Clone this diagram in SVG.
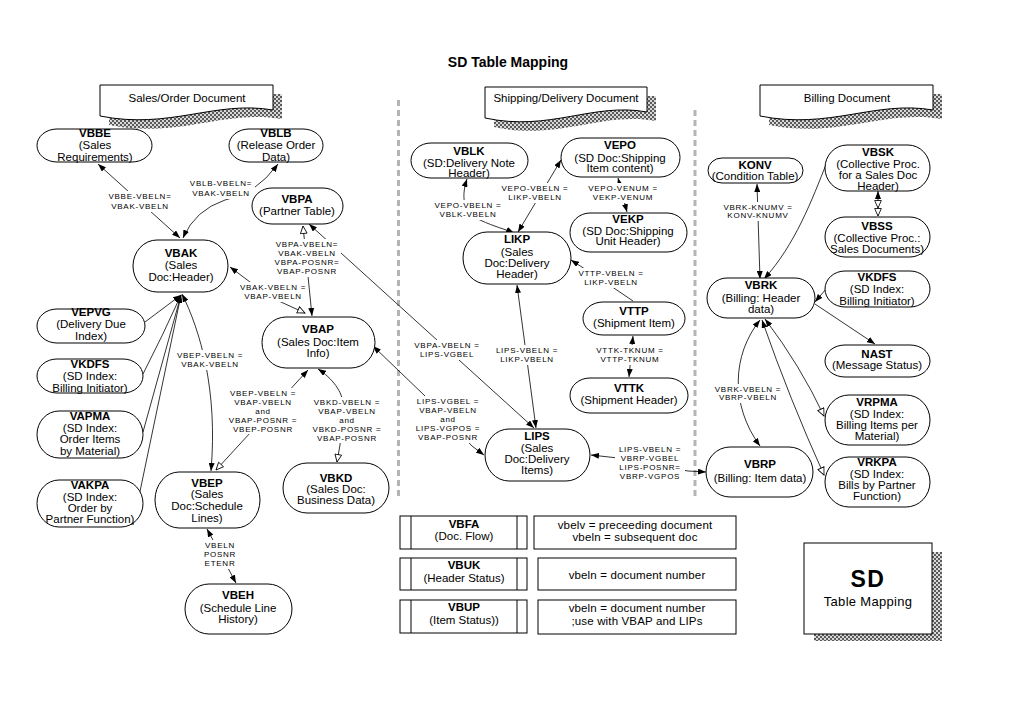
<svg xmlns="http://www.w3.org/2000/svg" width="1017" height="719" viewBox="0 0 1017 719">
<defs>
<style>
text{font-family:"Liberation Sans",Arial,sans-serif;fill:#000;text-anchor:middle}
.n{font-size:11.5px}
.h{font-weight:bold}
.l{font-size:8px;letter-spacing:0.75px}
.d{font-size:11.5px;letter-spacing:0.15px}
.node rect,.node path{fill:#fff;stroke:#000;stroke-width:1}
.node line{stroke:#000;stroke-width:1}
.node .sh{fill:url(#chk);stroke:none}
.c{fill:none;stroke:#000;stroke-width:0.8}
.bg{fill:#fff}
.sep{stroke:#b4b4b4;stroke-width:3;stroke-dasharray:6 4}
</style>
<pattern id="chk" width="4" height="4" patternUnits="userSpaceOnUse"><rect width="4" height="4" fill="#d8d8d8"/><rect width="2" height="2" fill="#5a5a5a"/><rect x="2" y="2" width="2" height="2" fill="#5a5a5a"/></pattern>
<marker id="f" viewBox="0 0 10 10" refX="10" refY="5" markerWidth="8" markerHeight="6" preserveAspectRatio="none" markerUnits="userSpaceOnUse" orient="auto-start-reverse"><path d="M0,0 L10,5 L0,10 Z" fill="#000"/></marker>
<marker id="o" viewBox="0 0 12 12" refX="11" refY="6" markerWidth="9" markerHeight="8" preserveAspectRatio="none" markerUnits="userSpaceOnUse" orient="auto-start-reverse"><path d="M1,1 L11,6 L1,11 Z" fill="#fff" stroke="#000" stroke-width="1.2"/></marker>
</defs>
<rect width="1017" height="719" fill="#fff"/>
<text x="508" y="67" style="font-size:14px;font-weight:bold">SD Table Mapping</text>

<g id="separators">
<line class="sep" x1="398.5" y1="100" x2="398.5" y2="500"/>
<line class="sep" x1="695" y1="110" x2="695" y2="498"/>
</g>

<g id="banner-sales" class="node">
<path class="sh" d="M109,94 H282 V119 C224,109 179,139 109,125 Z"/>
<path d="M100,85 H273 V110 C215,100 170,130 100,116 Z"/>
<text class="n" x="187" y="102">Sales/Order Document</text>
</g>
<g id="banner-shipping" class="node">
<path class="sh" d="M494,96 H656 V121 C602,111 559,141 494,127 Z"/>
<path d="M485,87 H647 V112 C593,102 550,132 485,118 Z"/>
<text class="n" x="566" y="102">Shipping/Delivery Document</text>
</g>
<g id="banner-billing" class="node">
<path class="sh" d="M769,94 H942 V119 C884,109 839,139 769,125 Z"/>
<path d="M760,85 H933 V110 C875,100 830,130 760,116 Z"/>
<text class="n" x="847" y="102">Billing Document</text>
</g>

<g id="connectors">
<path class="c" d="M98,164 L180,238" marker-start="url(#f)" marker-end="url(#f)"/>
<path class="c" d="M278,164 Q255,195 225,200 Q195,210 183,238" marker-start="url(#f)" marker-end="url(#f)"/>
<path class="c" d="M230,267 L270,297 L305,313" marker-start="url(#f)" marker-end="url(#o)"/>
<path class="c" d="M303,226 L312,316" marker-start="url(#o)" marker-end="url(#f)"/>
<path class="c" d="M309,224 L534,428" marker-start="url(#f)" marker-end="url(#f)"/>
<path class="c" d="M182,294 C200,330 218,390 211,471" marker-start="url(#f)" marker-end="url(#f)"/>
<path class="c" d="M308,370 L216,470" marker-start="url(#f)" marker-end="url(#o)"/>
<path class="c" d="M318,369 C332,378 343,392 343,405 L340,445 L337,462" marker-start="url(#f)" marker-end="url(#o)"/>
<path class="c" d="M207,529 L236,583" marker-start="url(#f)" marker-end="url(#f)"/>
<path class="c" d="M145,322 L181,295" marker-end="url(#f)"/>
<path class="c" d="M143,374 Q163,335 181,295" marker-end="url(#f)"/>
<path class="c" d="M143,432 L181,295" marker-end="url(#f)"/>
<path class="c" d="M133,525 L181,295" marker-end="url(#f)"/>
<path class="c" d="M467,179 C460,200 465,213 480,220 C495,227 505,229 514,233" marker-start="url(#f)" marker-end="url(#f)"/>
<path class="c" d="M561,160 L518,232" marker-start="url(#f)" marker-end="url(#f)"/>
<path class="c" d="M618,178 L627,212" marker-start="url(#f)" marker-end="url(#f)"/>
<path class="c" d="M571,260 L605,282 L633,301" marker-start="url(#f)"/>
<path class="c" d="M633,336 L629,377" marker-start="url(#f)" marker-end="url(#f)"/>
<path class="c" d="M517,285 L536,428" marker-start="url(#f)" marker-end="url(#f)"/>
<path class="c" d="M373,346 L425,396 L472,446 L484,455" marker-start="url(#f)" marker-end="url(#f)"/>
<path class="c" d="M591,455 L618,458 L688,471 L706,472" marker-start="url(#f)" marker-end="url(#f)"/>
<path class="c" d="M757,184 L760,279" marker-start="url(#f)" marker-end="url(#f)"/>
<path class="c" d="M827,162 C812,200 795,245 764,279" marker-end="url(#f)"/>
<path class="c" d="M878,191 L878,208 L878,216" marker-start="url(#f)" marker-mid="url(#o)" marker-end="url(#o)"/>
<path class="c" d="M826,289 L815,302" marker-end="url(#f)"/>
<path class="c" d="M815,304 L875,344" marker-end="url(#f)"/>
<path class="c" d="M765,319 Q800,365 824,416" marker-start="url(#f)" marker-end="url(#o)"/>
<path class="c" d="M762,320 Q790,400 824,475" marker-start="url(#f)" marker-end="url(#o)"/>
<path class="c" d="M760,320 C732,355 730,405 760,446" marker-start="url(#f)" marker-end="url(#f)"/>

<rect class="bg" x="106" y="191" width="68" height="21"/>
<text class="l"><tspan x="140" y="199">VBBE-VBELN=</tspan><tspan x="140" y="209">VBAK-VBELN</tspan></text>
<rect class="bg" x="187" y="178" width="68" height="21"/>
<text class="l"><tspan x="221" y="186">VBLB-VBELN=</tspan><tspan x="221" y="196">VBAK-VBELN</tspan></text>
<rect class="bg" x="273" y="239" width="68" height="38"/>
<text class="l"><tspan x="307" y="247">VBPA-VBELN=</tspan><tspan x="307" y="256">VBAK-VBELN</tspan><tspan x="307" y="265">VBPA-POSNR=</tspan><tspan x="307" y="274">VBAP-POSNR</tspan></text>
<rect class="bg" x="239" y="282" width="65" height="20"/>
<text class="l"><tspan x="273" y="290">VBAK-VBELN =</tspan><tspan x="273" y="299">VBAP-VBELN</tspan></text>
<rect class="bg" x="174" y="350" width="73" height="20"/>
<text class="l"><tspan x="210" y="358">VBEP-VBELN =</tspan><tspan x="210" y="367">VBAK-VBELN</tspan></text>
<rect class="bg" x="227" y="388" width="73" height="46"/>
<text class="l"><tspan x="263" y="396">VBEP-VBELN =</tspan><tspan x="263" y="405">VBAP-VBELN</tspan><tspan x="263" y="414">and</tspan><tspan x="263" y="423">VBAP-POSNR =</tspan><tspan x="263" y="432">VBEP-POSNR</tspan></text>
<rect class="bg" x="311" y="397" width="73" height="46"/>
<text class="l"><tspan x="347" y="405">VBKD-VBELN =</tspan><tspan x="347" y="414">VBAP-VBELN</tspan><tspan x="347" y="423">and</tspan><tspan x="347" y="432">VBKD-POSNR =</tspan><tspan x="347" y="441">VBAP-POSNR</tspan></text>
<rect class="bg" x="203" y="540" width="34" height="29"/>
<text class="l"><tspan x="220" y="548">VBELN</tspan><tspan x="220" y="557">POSNR</tspan><tspan x="220" y="566">ETENR</tspan></text>
<rect class="bg" x="432" y="200" width="73" height="20"/>
<text class="l"><tspan x="468" y="208">VEPO-VBELN =</tspan><tspan x="468" y="217">VBLK-VBELN</tspan></text>
<rect class="bg" x="499" y="183" width="73" height="20"/>
<text class="l"><tspan x="535" y="191">VEPO-VBELN =</tspan><tspan x="535" y="200">LIKP-VBELN</tspan></text>
<rect class="bg" x="585" y="183" width="76" height="20"/>
<text class="l"><tspan x="623" y="191">VEPO-VENUM =</tspan><tspan x="623" y="200">VEKP-VENUM</tspan></text>
<rect class="bg" x="575" y="268" width="73" height="20"/>
<text class="l"><tspan x="611" y="276">VTTP-VBELN =</tspan><tspan x="611" y="285">LIKP-VBELN</tspan></text>
<rect class="bg" x="593" y="345" width="74" height="20"/>
<text class="l"><tspan x="630" y="353">VTTK-TKNUM =</tspan><tspan x="630" y="362">VTTP-TKNUM</tspan></text>
<rect class="bg" x="492" y="345" width="70" height="20"/>
<text class="l"><tspan x="527" y="353">LIPS-VBELN =</tspan><tspan x="527" y="362">LIKP-VBELN</tspan></text>
<rect class="bg" x="411" y="340" width="73" height="20"/>
<text class="l"><tspan x="447" y="348">VBPA-VBELN =</tspan><tspan x="447" y="357">LIPS-VGBEL</tspan></text>
<rect class="bg" x="412" y="396" width="72" height="47"/>
<text class="l"><tspan x="448" y="404">LIPS-VGBEL =</tspan><tspan x="448" y="413">VBAP-VBELN</tspan><tspan x="448" y="422">and</tspan><tspan x="448" y="431">LIPS-VGPOS =</tspan><tspan x="448" y="440">VBAP-POSNR</tspan></text>
<rect class="bg" x="615" y="444" width="70" height="38"/>
<text class="l"><tspan x="650" y="452">LIPS-VBELN =</tspan><tspan x="650" y="461">VBRP-VGBEL</tspan><tspan x="650" y="470">LIPS-POSNR=</tspan><tspan x="650" y="479">VBRP-VGPOS</tspan></text>
<rect class="bg" x="721" y="202" width="75" height="19"/>
<text class="l"><tspan x="758" y="210">VBRK-KNUMV =</tspan><tspan x="758" y="218">KONV-KNUMV</tspan></text>
<rect class="bg" x="712" y="384" width="73" height="19"/>
<text class="l"><tspan x="748" y="392">VBRK-VBELN =</tspan><tspan x="748" y="400">VBRP-VBELN</tspan></text>
</g>

<g id="VBBE" class="node"><rect x="37" y="129" width="115" height="33" rx="20" ry="16.5"/><text class="n"><tspan class="h" x="95" y="137">VBBE</tspan><tspan x="95" y="149">(Sales</tspan><tspan x="95" y="161">Requirements)</tspan></text></g>
<g id="VBLB" class="node"><rect x="229" y="129" width="94" height="33" rx="20" ry="16.5"/><text class="n"><tspan class="h" x="276" y="137">VBLB</tspan><tspan x="276" y="149">(Release Order</tspan><tspan x="276" y="161">Data)</tspan></text></g>
<g id="VBPA" class="node"><rect x="252" y="188" width="91" height="36" rx="20" ry="18"/><text class="n"><tspan class="h" x="297" y="203">VBPA</tspan><tspan x="297" y="215">(Partner Table)</tspan></text></g>
<g id="VBAK" class="node"><rect x="133" y="240" width="95" height="52" rx="24" ry="26"/><text class="n"><tspan class="h" x="181" y="257">VBAK</tspan><tspan x="181" y="269">(Sales</tspan><tspan x="181" y="281">Doc:Header)</tspan></text></g>
<g id="VEPVG" class="node"><rect x="37" y="309" width="108" height="34" rx="20" ry="17"/><text class="n"><tspan class="h" x="91" y="316">VEPVG</tspan><tspan x="91" y="328">(Delivery Due</tspan><tspan x="91" y="340">Index)</tspan></text></g>
<g id="VKDFS_L" class="node"><rect x="37" y="359" width="106" height="34" rx="20" ry="17"/><text class="n"><tspan class="h" x="90" y="368">VKDFS</tspan><tspan x="90" y="380">(SD Index:</tspan><tspan x="90" y="392">Billing Initiator)</tspan></text></g>
<g id="VAPMA" class="node"><rect x="37" y="411" width="106" height="47" rx="22" ry="23.5"/><text class="n"><tspan class="h" x="90" y="420">VAPMA</tspan><tspan x="90" y="432">(SD Index:</tspan><tspan x="90" y="443">Order Items</tspan><tspan x="90" y="455">by Material)</tspan></text></g>
<g id="VAKPA" class="node"><rect x="37" y="480" width="106" height="47" rx="22" ry="23.5"/><text class="n"><tspan class="h" x="90" y="489">VAKPA</tspan><tspan x="90" y="501">(SD Index:</tspan><tspan x="90" y="512">Order by</tspan><tspan x="90" y="523">Partner Function)</tspan></text></g>
<g id="VBAP" class="node"><rect x="262" y="317" width="113" height="51" rx="24" ry="25.5"/><text class="n"><tspan class="h" x="318" y="333">VBAP</tspan><tspan x="318" y="346">(Sales Doc:Item</tspan><tspan x="318" y="357">Info)</tspan></text></g>
<g id="VBEP" class="node"><rect x="155" y="472" width="105" height="56" rx="24" ry="28"/><text class="n"><tspan class="h" x="207" y="487">VBEP</tspan><tspan x="207" y="498">(Sales</tspan><tspan x="207" y="510">Doc:Schedule</tspan><tspan x="207" y="522">Lines)</tspan></text></g>
<g id="VBKD" class="node"><rect x="283" y="463" width="106" height="50" rx="24" ry="25"/><text class="n"><tspan class="h" x="336" y="482">VBKD</tspan><tspan x="336" y="493">(Sales Doc:</tspan><tspan x="336" y="504">Business Data)</tspan></text></g>
<g id="VBEH" class="node"><rect x="185" y="584" width="107" height="50" rx="24" ry="25"/><text class="n"><tspan class="h" x="238" y="599">VBEH</tspan><tspan x="238" y="612">(Schedule Line</tspan><tspan x="238" y="623">History)</tspan></text></g>

<g id="VBLK" class="node"><rect x="411" y="143" width="117" height="35" rx="20" ry="17.5"/><text class="n"><tspan class="h" x="469" y="155">VBLK</tspan><tspan x="469" y="167">(SD:Delivery Note</tspan><tspan x="469" y="177">Header)</tspan></text></g>
<g id="VEPO" class="node"><rect x="561" y="138" width="119" height="39" rx="20" ry="19.5"/><text class="n"><tspan class="h" x="620" y="149">VEPO</tspan><tspan x="620" y="162">(SD Doc:Shipping</tspan><tspan x="620" y="172">Item content)</tspan></text></g>
<g id="VEKP" class="node"><rect x="570" y="213" width="117" height="39" rx="20" ry="19.5"/><text class="n"><tspan class="h" x="628" y="223">VEKP</tspan><tspan x="628" y="235">(SD Doc:Shipping</tspan><tspan x="628" y="245">Unit Header)</tspan></text></g>
<g id="LIKP" class="node"><rect x="463" y="232" width="108" height="52" rx="24" ry="26"/><text class="n"><tspan class="h" x="517" y="243">LIKP</tspan><tspan x="517" y="256">(Sales</tspan><tspan x="517" y="267">Doc:Delivery</tspan><tspan x="517" y="278">Header)</tspan></text></g>
<g id="VTTP" class="node"><rect x="583" y="302" width="102" height="33" rx="20" ry="16.5"/><text class="n"><tspan class="h" x="634" y="315">VTTP</tspan><tspan x="634" y="327">(Shipment Item)</tspan></text></g>
<g id="VTTK" class="node"><rect x="570" y="378" width="118" height="35" rx="20" ry="17.5"/><text class="n"><tspan class="h" x="629" y="392">VTTK</tspan><tspan x="629" y="404">(Shipment Header)</tspan></text></g>
<g id="LIPS" class="node"><rect x="485" y="429" width="105" height="52" rx="24" ry="26"/><text class="n"><tspan class="h" x="537" y="440">LIPS</tspan><tspan x="537" y="452">(Sales</tspan><tspan x="537" y="463">Doc:Delivery</tspan><tspan x="537" y="474">Items)</tspan></text></g>

<g id="KONV" class="node"><rect x="708" y="158" width="95" height="25" rx="14" ry="12.5"/><text class="n"><tspan class="h" x="755" y="169">KONV</tspan><tspan x="755" y="180">(Condition Table)</tspan></text></g>
<g id="VBSK" class="node"><rect x="825" y="145" width="105" height="46" rx="22" ry="23"/><text class="n"><tspan class="h" x="878" y="156">VBSK</tspan><tspan x="878" y="168">(Collective Proc.</tspan><tspan x="878" y="179">for a Sales Doc</tspan><tspan x="878" y="190">Header)</tspan></text></g>
<g id="VBSS" class="node"><rect x="825" y="217" width="105" height="40" rx="20" ry="20"/><text class="n"><tspan class="h" x="877" y="230">VBSS</tspan><tspan x="877" y="242">(Collective Proc.:</tspan><tspan x="877" y="253">Sales Documents)</tspan></text></g>
<g id="VKDFS_R" class="node"><rect x="825" y="271" width="105" height="36" rx="20" ry="18"/><text class="n"><tspan class="h" x="877" y="281">VKDFS</tspan><tspan x="877" y="293">(SD Index:</tspan><tspan x="877" y="305">Billing Initiator)</tspan></text></g>
<g id="VBRK" class="node"><rect x="707" y="278" width="108" height="40" rx="20" ry="20"/><text class="n"><tspan class="h" x="761" y="289">VBRK</tspan><tspan x="761" y="302">(Billing: Header</tspan><tspan x="761" y="313">data)</tspan></text></g>
<g id="NAST" class="node"><rect x="825" y="345" width="105" height="32" rx="20" ry="16"/><text class="n"><tspan class="h" x="877" y="358">NAST</tspan><tspan x="877" y="369">(Message Status)</tspan></text></g>
<g id="VRPMA" class="node"><rect x="825" y="395" width="105" height="50" rx="24" ry="25"/><text class="n"><tspan class="h" x="877" y="406">VRPMA</tspan><tspan x="877" y="418">(SD Index:</tspan><tspan x="877" y="429">Billing Items per</tspan><tspan x="877" y="440">Material)</tspan></text></g>
<g id="VRKPA" class="node"><rect x="825" y="457" width="105" height="50" rx="24" ry="25"/><text class="n"><tspan class="h" x="877" y="466">VRKPA</tspan><tspan x="877" y="478">(SD Index:</tspan><tspan x="877" y="489">Bills by Partner</tspan><tspan x="877" y="500">Function)</tspan></text></g>
<g id="VBRP" class="node"><rect x="706" y="447" width="107" height="50" rx="24" ry="25"/><text class="n"><tspan class="h" x="760" y="468">VBRP</tspan><tspan x="760" y="482">(Billing: Item data)</tspan></text></g>

<g id="VBFA" class="node"><rect x="400" y="516" width="127" height="33"/><line x1="411" y1="516" x2="411" y2="549"/><line x1="517" y1="516" x2="517" y2="549"/><text class="n"><tspan class="h" x="464" y="528">VBFA</tspan><tspan x="464" y="540">(Doc. Flow)</tspan></text></g>
<g id="VBFA-desc" class="node"><rect x="534" y="516" width="202" height="33"/><text class="d"><tspan x="635" y="529">vbelv = preceeding document</tspan><tspan x="635" y="541">vbeln = subsequent doc</tspan></text></g>
<g id="VBUK" class="node"><rect x="400" y="558" width="127" height="32"/><line x1="411" y1="558" x2="411" y2="590"/><line x1="517" y1="558" x2="517" y2="590"/><text class="n"><tspan class="h" x="464" y="569">VBUK</tspan><tspan x="464" y="582">(Header Status)</tspan></text></g>
<g id="VBUK-desc" class="node"><rect x="538" y="558" width="198" height="32"/><text class="d" x="637" y="579">vbeln = document number</text></g>
<g id="VBUP" class="node"><rect x="400" y="600" width="127" height="33"/><line x1="411" y1="600" x2="411" y2="633"/><line x1="517" y1="600" x2="517" y2="633"/><text class="n"><tspan class="h" x="464" y="611">VBUP</tspan><tspan x="464" y="624">(Item Status))</tspan></text></g>
<g id="VBUP-desc" class="node"><rect x="538" y="600" width="198" height="34"/><text class="d"><tspan x="637" y="612">vbeln = document number</tspan><tspan x="637" y="625">;use with VBAP and LIPs</tspan></text></g>

<g id="SD" class="node">
<rect class="sh" x="814" y="552" width="128" height="89"/>
<rect x="804" y="543" width="128" height="91"/>
<text x="868" y="587" style="font-size:23px;font-weight:bold;letter-spacing:1.5px">SD</text>
<text x="868" y="606" style="font-size:13px;letter-spacing:0.3px">Table Mapping</text>
</g>
</svg>
